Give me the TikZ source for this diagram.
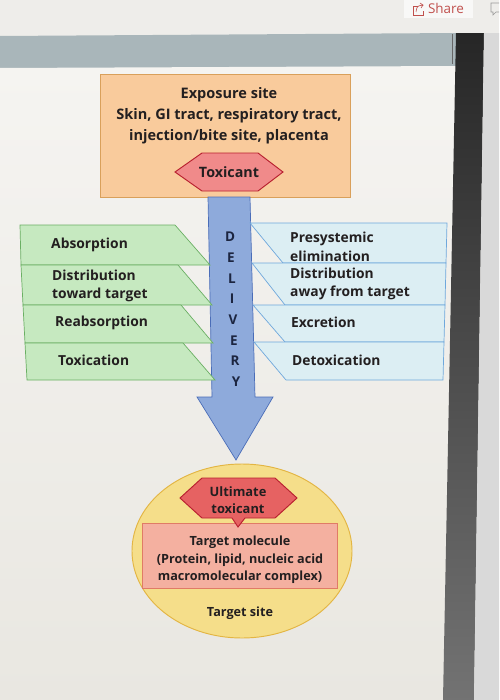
\documentclass[tikz,border=0pt]{standalone}
\usepackage{fontspec}
\setmainfont{Open Sans}
\usetikzlibrary{shapes.geometric}
\definecolor{textdark}{HTML}{231F20}
\definecolor{orangefill}{HTML}{F9CB9C}
\definecolor{orangeline}{HTML}{D9A05B}
\definecolor{redfill}{HTML}{F08A8A}
\definecolor{redline}{HTML}{B8202F}
\definecolor{deepred}{HTML}{E66262}
\definecolor{greenfill}{HTML}{C6E9C0}
\definecolor{greenline}{HTML}{6AAF63}
\definecolor{bluefill}{HTML}{DCEEF3}
\definecolor{blueline}{HTML}{6FA8DC}
\definecolor{arrowfill}{HTML}{8EAADB}
\definecolor{arrowline}{HTML}{4A6DB8}
\definecolor{letterblue}{HTML}{1C2540}
\definecolor{yellowfill}{HTML}{F5DE8A}
\definecolor{yellowline}{HTML}{E3B543}
\definecolor{pinkfill}{HTML}{F4B0A0}
\definecolor{pinkline}{HTML}{E07B66}
\definecolor{topbg}{HTML}{EEEDEA}
\definecolor{graybar}{HTML}{A9B6BA}
\definecolor{pagetop}{HTML}{F5F4F1}
\definecolor{pagebottom}{HTML}{E9E7E1}
\definecolor{sharered}{HTML}{C0504D}
\begin{document}
\begin{tikzpicture}
        [x=0.03cm,y=-0.03cm,
        txt/.style={font=\bfseries\fontsize{11.8}{16}\selectfont,text=textdark,inner sep=0pt},
        small/.style={font=\bfseries\fontsize{10.8}{15}\selectfont,text=textdark,inner sep=0pt,align=center},
        letter/.style={font=\bfseries\fontsize{11.5}{13}\selectfont,text=letterblue,inner sep=0pt},
        greenbox/.style={draw=greenline,fill=greenfill,line width=0.6pt},
        bluebox/.style={draw=blueline,fill=bluefill,line width=0.6pt},
        hexagon/.style={draw=redline,fill=redfill,line width=0.8pt}]
        % screen around the figure
        \useasboundingbox (0,0) rectangle (499,700);
        \fill[topbg] (0,0) rectangle (499,700);
        \fill[white!60!topbg] (404,0) rectangle (473,18);
        \node[font=\fontsize{11.5}{14}\selectfont,text=sharered] (share) at (446,8) {Share};
        \draw[sharered,line width=0.5pt] (418,6) -- (413,6) -- (413,15) -- (423,15) -- (423,11);
        \draw[sharered,line width=0.5pt] (416,12) .. controls (417,6) .. (423,5) -- (420,3) (423,5) -- (421,8);
        \draw[black!40,line width=0.5pt] (499,3) -- (491,3) -- (491,12) -- (493,12) -- (493,15) -- (496,12) -- (499,12);
        \fill[graybar] (0,36) -- (458,33) -- (458,68) -- (0,68) -- cycle;
        \draw[black!60,line width=0.6pt] (452,34) -- (452,64);
        \shade[top color=pagetop,bottom color=pagebottom] (0,68) -- (458,66) -- (445,700) -- (0,700) -- cycle;
        \shade[top color=black!85,bottom color=black!55] (456,33) -- (484,33) -- (474,700) -- (443,700) -- cycle;
        \fill[black!15] (484,33) -- (499,33) -- (499,700) -- (474,700) -- cycle;
        % exposure site
        \node[draw=orangeline,fill=orangefill,line width=0.6pt,minimum width=7.5cm,minimum height=3.69cm] (exposure) at (225,135.5) {};
        \node[txt,align=center,font=\bfseries\fontsize{12.4}{18}\selectfont] (exposuretext) at (229,116) {Exposure site\\Skin, GI tract, respiratory tract,\\injection/bite site, placenta};
        \draw[hexagon] (175,172) -- (202,153) -- (258,153) -- (283,172) -- (258,191) -- (202,191) -- cycle;
        \node[txt,font=\bfseries\fontsize{12.2}{14}\selectfont] (toxicant) at (229,172) {Toxicant};
        % delivery arrow
        \draw[draw=arrowline,fill=arrowfill,line width=0.6pt] (208,197) -- (250,197) -- (255,397) -- (273,397)
            -- (236,460) -- (197,397) -- (212,397) -- cycle;
        \node[letter] (d) at (230,237) {D};
        \node[letter] (e1) at (231,258) {E};
        \node[letter] (l) at (232,279) {L};
        \node[letter] (i) at (232,299) {I};
        \node[letter] (v) at (233,320) {V};
        \node[letter] (e2) at (234,341) {E};
        \node[letter] (r) at (235,361) {R};
        \node[letter] (y) at (236,382) {Y};
        % toward the target
        \draw[greenbox] (20,225) -- (175,225) -- (210,265) -- (21,265) -- cycle;
        \draw[greenbox] (21,265) -- (178,265) -- (212,305) -- (23,305) -- cycle;
        \draw[greenbox] (23,305) -- (181,305) -- (213,343) -- (25,343) -- cycle;
        \draw[greenbox] (25,343) -- (183,343) -- (215,380) -- (27,380) -- cycle;
        \node[txt,anchor=west] (absorption) at (51,245) {Absorption};
        \node[txt,anchor=west,align=left] (toward) at (52,286) {Distribution\\toward target};
        \node[txt,anchor=west] (reabsorption) at (55,323) {Reabsorption};
        \node[txt,anchor=west] (toxication) at (58,360) {Toxication};
        % away from the target
        \draw[bluebox] (250,223) -- (447,223) -- (446,263) -- (283,263) -- cycle;
        \draw[bluebox] (252,263) -- (446,263) -- (445,305) -- (285,305) -- cycle;
        \draw[bluebox] (253,305) -- (445,305) -- (444,342) -- (285,342) -- cycle;
        \draw[bluebox] (254,342) -- (444,342) -- (443,380) -- (286,380) -- cycle;
        \node[txt,anchor=west,align=left] (presystemic) at (290,247) {Presystemic\\elimination};
        \node[txt,anchor=west,align=left] (away) at (290,284) {Distribution\\away from target};
        \node[txt,anchor=west] (excretion) at (291,322) {Excretion};
        \node[txt,anchor=west] (detoxication) at (292,360) {Detoxication};
        % target site
        \node[ellipse,draw=yellowline,fill=yellowfill,line width=0.8pt,minimum width=6.6cm,minimum height=5.22cm] (site) at (242,551) {};
        \node[draw=pinkline,fill=pinkfill,line width=0.6pt,minimum width=5.85cm,minimum height=1.95cm] (molecule) at (239.5,555.5) {};
        \draw[draw=redline,fill=deepred,line width=0.8pt] (180,498) -- (202,478) -- (275,478) -- (297,498) -- (275,518)
            -- (245,518) -- (238,527) -- (232,518) -- (202,518) -- cycle;
        \node[small,font=\bfseries\fontsize{11}{14}\selectfont] (ultimate) at (238,500) {Ultimate\\toxicant};
        \node[small] (moleculetext) at (240,560) {Target molecule\\(Protein, lipid, nucleic acid\\macromolecular complex)};
        \node[small] (sitetext) at (240,613) {Target site};
    \end{tikzpicture}
\end{document}
